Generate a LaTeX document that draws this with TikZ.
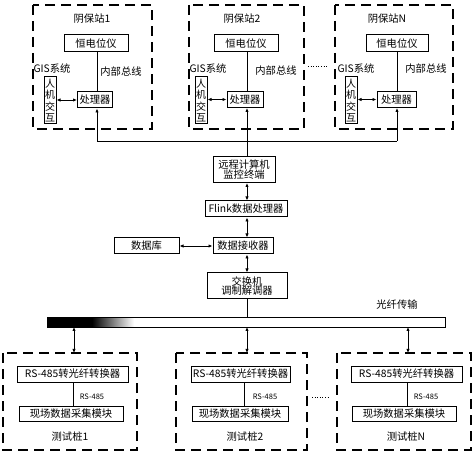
\documentclass[tikz,border=0pt]{standalone}
\usepackage{fontspec}
\setmainfont{Noto Sans CJK SC}
\usetikzlibrary{arrows.meta,calc}
\tikzset{
  box/.style={draw, line width=1pt, inner sep=0pt, align=center, font=\fontsize{10.3}{11.5}\selectfont},
  grp/.style={draw, dashed, dash pattern=on 10pt off 6pt, line width=1.1pt},
  lbl/.style={inner sep=0pt, font=\fontsize{10.3}{11.5}\selectfont},
  con/.style={line width=0.8pt},
  arr/.style={con, -{Latex[length=4pt,width=3.4pt]}},
  darr/.style={con, {Latex[length=4pt,width=3.4pt]}-{Latex[length=4pt,width=3.4pt]}},
}
\begin{document}
\begin{tikzpicture}[x=1pt,y=-1pt]
\useasboundingbox (0,0) rectangle (474,454);
% ---------- stations ----------
\draw[grp] (33,5) rectangle (152,129);
\draw[grp] (189,5) rectangle (304,129);
\draw[grp] (335,5) rectangle (453,129);

\node[lbl] (t1) at (92,19) {阴保站1};
\node[lbl] (t2) at (242,19) {阴保站2};
\node[lbl] (tN) at (387,19) {阴保站N};

\node[box, minimum width=64, minimum height=17] (h1) at (96,43.5) {恒电位仪};
\node[box, minimum width=64, minimum height=17] (h2) at (246,43.5) {恒电位仪};
\node[box, minimum width=62, minimum height=17] (hN) at (397,43.5) {恒电位仪};

\node[box, minimum width=35, minimum height=16] (p1) at (95,100) {处理器};
\node[box, minimum width=36, minimum height=16] (p2) at (245,99.5) {处理器};
\node[box, minimum width=39, minimum height=16] (pN) at (396.5,99.5) {处理器};

\node[box, minimum width=12, minimum height=47, font=\fontsize{10}{11.3}\selectfont] (m1) at (50,100.5) {人\\机\\交\\互};
\node[box, minimum width=12, minimum height=47, font=\fontsize{10}{11.3}\selectfont] (m2) at (201,100.5) {人\\机\\交\\互};
\node[box, minimum width=12, minimum height=47, font=\fontsize{10}{11.3}\selectfont] (mN) at (351,100.5) {人\\机\\交\\互};

\node[lbl] (g1) at (52,69) {GIS系统};
\node[lbl] (g2) at (208,69) {GIS系统};
\node[lbl] (gN) at (356,69) {GIS系统};

\node[lbl] (b1) at (121,72) {内部总线};
\node[lbl] (b2) at (276,71) {内部总线};
\node[lbl] (bN) at (426,69) {内部总线};

\draw[con] (h1.south -| 97,0) -- (97,0 |- p1.north);
\draw[con] (h2.south -| 247,0) -- (247,0 |- p2.north);
\draw[con] (hN.south -| 397,0) -- (397,0 |- pN.north);

\draw[darr] (m1.east |- p1) -- (p1.west);
\draw[darr] (m2.east |- p2) -- (p2.west);
\draw[darr] (mN.east |- pN) -- (pN.west);

\draw[dotted, line width=0.6pt] (308,66) -- (327,66);

% ---------- bus to stations ----------
\coordinate (bus) at (247,141);
\draw[con] (97,141) -- (397,141);
\draw[arr] (97,141) -- (97,0 |- p1.south);
\draw[arr] (247,141) -- (247,0 |- p2.south);
\draw[arr] (397,141) -- (397,0 |- pN.south);

% ---------- central column ----------
\node[box, minimum width=62, minimum height=26] (rc) at (244,169.5) {远程计算机\\[-2pt]监控终端};
\node[box, minimum width=82, minimum height=16] (fl) at (246,209) {Flink数据处理器};
\node[box, minimum width=60, minimum height=16] (rx) at (243,246) {数据接收器};
\node[box, minimum width=65, minimum height=16] (db) at (146.5,246) {数据库};
\node[box, minimum width=80, minimum height=26] (sw) at (247,286) {交换机\\[-2pt]调制解调器};

\draw[con] (bus) -- (247,0 |- rc.north);
\draw[darr] (247,0 |- rc.south) -- (247,0 |- fl.north);
\draw[darr] (247,0 |- fl.south) -- (247,0 |- rx.north);
\draw[darr] (db.east) -- (rx.west);
\draw[darr] (247,0 |- rx.south) -- (247,0 |- sw.north);

% ---------- fibre ----------
\fill[black] (47,317) rectangle (92,327);
\shade[left color=black, right color=white] (92,317.4) rectangle (134,326.6);
\draw[line width=0.8pt] (47,317) rectangle (445,327);
\node[lbl] (fl2) at (397,305) {光纤传输};
\draw[con] (247,0 |- sw.south) -- (247,317);

% ---------- test piles ----------
\draw[grp] (3,353) rectangle (137,450);
\draw[grp] (176,353) rectangle (307,450);
\draw[grp] (337,353) rectangle (471,450);

\node[box, minimum width=111, minimum height=16] (r1) at (72.5,374) {RS-485转光纤转换器};
\node[box, minimum width=99, minimum height=16] (r2) at (240.5,374) {RS-485转光纤转换器};
\node[box, minimum width=111, minimum height=16] (rN) at (406.5,374) {RS-485转光纤转换器};

\node[box, minimum width=104, minimum height=15] (c1) at (71,414) {现场数据采集模块};
\node[box, minimum width=96, minimum height=15] (c2) at (240,414) {现场数据采集模块};
\node[box, minimum width=104, minimum height=15] (cN) at (404,414) {现场数据采集模块};

\draw[con] (73,0 |- r1.south) -- (73,0 |- c1.north);
\draw[con] (244,0 |- r2.south) -- (244,0 |- c2.north);
\draw[con] (407,0 |- rN.south) -- (407,0 |- cN.north);

\node[lbl, font=\fontsize{7.5}{9}\selectfont] (k1) at (92,397) {RS-485};
\node[lbl, font=\fontsize{7.5}{9}\selectfont] (k2) at (265,397) {RS-485};
\node[lbl, font=\fontsize{7.5}{9}\selectfont] (kN) at (426,397) {RS-485};

\node[lbl] (n1) at (70,437) {测试桩1};
\node[lbl] (n2) at (245,437) {测试桩2};
\node[lbl] (nN) at (406,437) {测试桩N};

\draw[dotted, line width=0.6pt] (312,397) -- (328,397);

\draw[darr] (74,327) -- (74,353);
\draw[darr] (247,327) -- (247,353);
\draw[darr] (408,327) -- (408,353);
\end{tikzpicture}
\end{document}
